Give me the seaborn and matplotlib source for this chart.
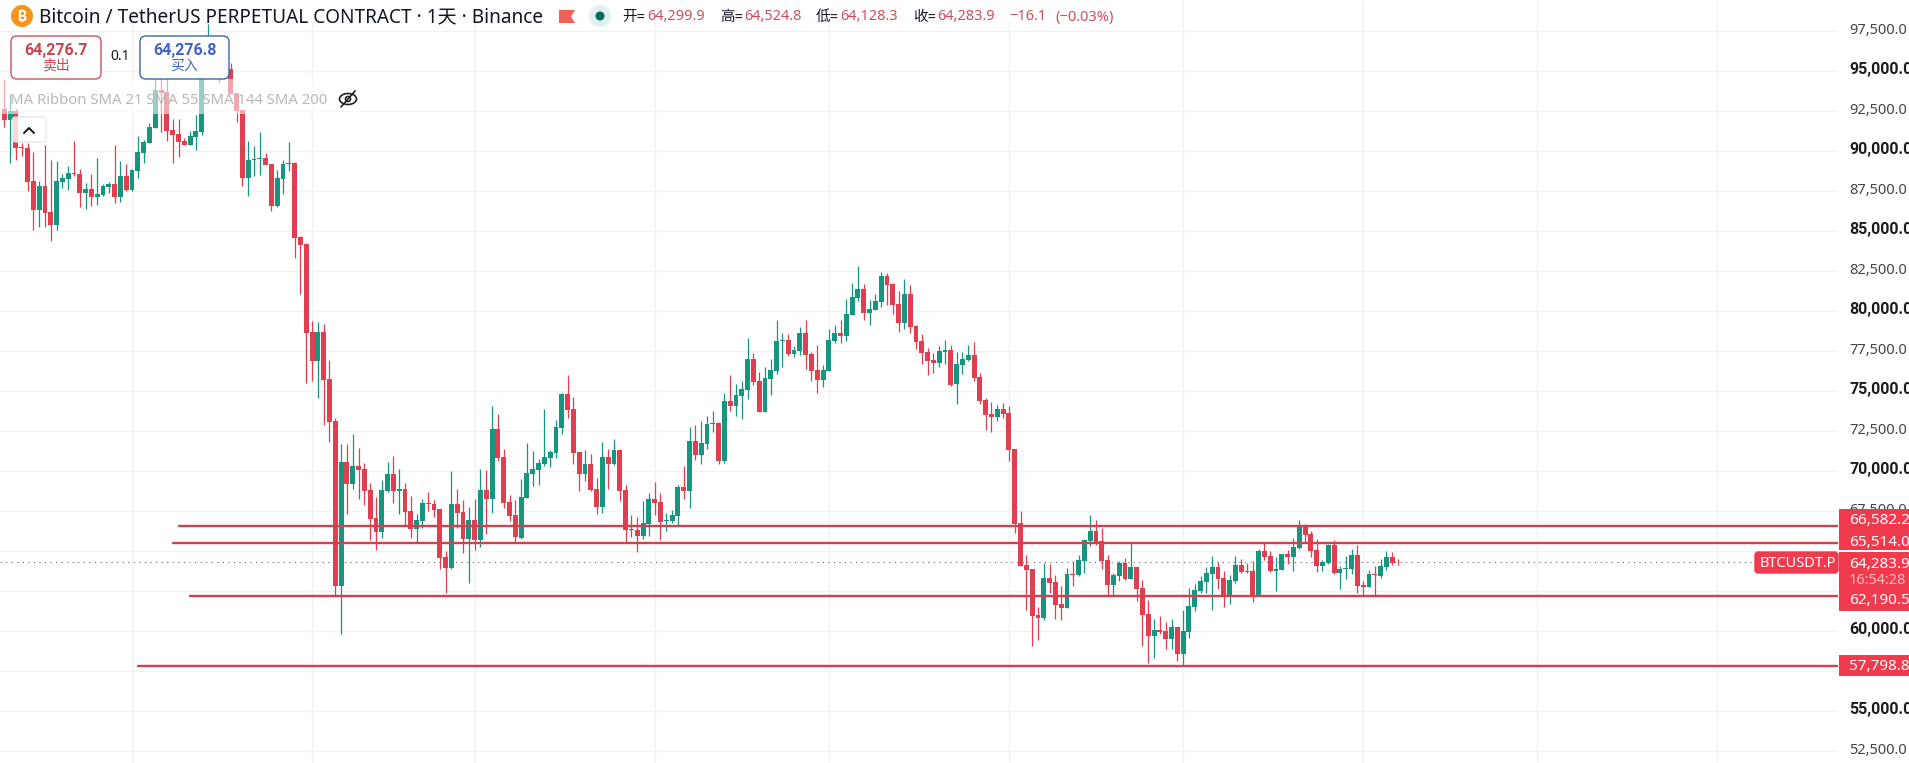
# BTC perpetual daily candles with hand drawn levels
import pandas as pd
import seaborn as sns
import matplotlib.pyplot as plt
from matplotlib.patches import Rectangle, FancyBboxPatch, Circle, Ellipse, Polygon
from matplotlib.transforms import ScaledTranslation

opens = [92625,91938,92500,90250,90188,88125,86312,87812,86188,85375,
88062,88250,88625,88562,87375,87625,87125,87250,87750,87938,
87125,88438,87562,88750,89875,90500,91438,93812,93688,91312,
91062,90625,90375,90875,91188,95417,96667,96042,95208,95125,
93625,92562,88312,89417,89500,89562,89188,86562,88250,89167,
89250,84625,84188,78688,76896,78688,75750,73125,62812,70562,
69208,70312,70125,68812,67062,66188,68750,69812,68771,68875,
67500,66375,66875,68000,67938,67625,64625,63938,67938,67438,
65750,66938,65688,68812,68250,72625,70875,68062,67250,65812,
68312,69812,70062,70438,70812,71125,72688,74812,73875,71188,
69812,70438,68875,67750,70875,70438,71312,68812,66375,66312,
65938,66688,68250,68062,66896,66875,67188,69000,68750,71875,
71000,71688,72917,73000,70625,74375,74062,74688,75062,77000,
75625,73688,75750,76250,78104,78188,77312,77500,78625,77312,
76312,75688,76250,78125,78625,78438,79750,80812,81375,79875,
80062,80562,82188,81688,80438,79250,81062,79062,78125,77438,
76938,76750,77458,77562,75438,76625,76938,77250,75875,74438,
73562,73375,73875,73625,71375,66750,64125,63875,61000,60812,
63312,63062,61688,61438,63562,63500,64375,65625,66250,65625,
64438,62875,63438,64250,63250,64000,62688,61062,59688,60062,
60000,59500,60250,58562,59938,61500,62500,63062,63562,64000,
63312,62188,63125,64125,63729,63750,62188,65000,64688,63771,
63812,64812,64625,65188,66562,66062,65062,64062,64250,65375,
63625,63875,63875,64750,62875,62750,63562,63438,64000,64625,
64299.9]
closes = [91938,92500,90208,90208,88083,86312,87812,86125,85375,88125,
88312,88625,88583,87375,87625,87125,87312,87812,87938,87125,
88438,87562,88812,89938,90562,91500,93812,93625,91250,91000,
90562,90375,90938,91250,95417,96667,96042,95208,95300,93562,
92500,88312,89438,89500,89562,89125,86562,88312,89188,89229,
84583,84146,78646,76896,78688,75708,73083,62812,70562,69208,
70312,70083,68750,67000,66188,68812,69812,68750,68854,67438,
66396,66938,68000,67958,67562,64562,63938,67938,67375,65750,
66938,65688,68812,68250,72625,70792,68000,67188,65875,68375,
69875,70125,70500,70875,71208,72750,74812,73812,71125,69812,
70438,68812,67750,70875,70438,71312,68750,66312,66312,65938,
66750,68250,68000,66812,66938,67250,69000,68750,71875,71000,
71750,72938,72979,70625,74375,74062,74750,75125,77000,75562,
73688,75812,76312,78125,78167,77312,77562,78625,77250,76250,
75688,76312,78188,78625,78438,79812,80875,81375,79875,80125,
80625,82188,81625,80375,79250,81062,79000,78062,77375,76875,
76750,77500,77542,75375,76688,77000,77250,75812,74375,73500,
73375,73875,73562,71312,66688,64062,63812,60938,60812,63312,
63000,61625,61438,63562,63521,64438,65688,66250,65500,64375,
62875,63500,64250,63250,64000,62625,61000,59688,60062,59938,
59500,60250,58562,60000,61562,62562,63125,63625,64000,63250,
62188,63188,64125,63688,63667,62188,65000,64625,63750,63854,
64812,64625,65250,66562,66000,65000,64062,64312,65375,63625,
63875,63938,64750,62812,62750,63562,63500,64062,64625,64250,
64283.9]
highs = [94438,93562,92604,90521,90521,89938,88125,90375,89438,89375,
88562,89062,90625,88875,88000,88562,89562,87938,88062,90375,
89375,89188,88854,90938,90688,91750,95000,95000,94792,91979,
91979,90812,91250,92250,95833,97938,96875,96250,95625,95500,
93625,92562,90625,90312,91188,89875,89188,88812,89438,90562,
89333,84688,84250,79375,79312,79188,76938,73333,71667,71667,
72312,71417,70479,69250,68375,69438,70562,70938,70104,69250,
68438,67312,68250,68688,68188,67625,65000,70000,68875,68188,
67750,68250,70125,70062,74062,73562,71375,68500,68188,69500,
71750,71250,70750,73875,71312,73188,74875,76000,74625,71188,
71312,71062,69562,71812,71375,72000,71375,69125,67250,67125,
68125,68625,69312,68625,67375,67562,69125,70312,72750,72875,
73125,73438,73750,73062,74875,76000,75438,75625,78312,77375,
76188,76500,77000,79438,78625,78562,77812,79000,79438,77438,
77875,76625,78875,79125,79438,80750,81750,82812,81688,80688,
81062,82438,82375,81750,81250,82000,81625,79125,78562,77688,
77375,77812,78188,77875,77438,77438,77875,78062,76125,74562,
74312,74125,74250,74062,71375,67500,64750,63875,61500,64229,
64188,63500,62812,63938,64375,64750,65750,67250,66938,66438,
64750,63625,64375,64562,65500,64000,63188,61938,60750,60938,
60562,60750,60250,61312,62688,62938,63438,64000,64688,64312,
63750,63500,64688,64500,64229,64375,65125,65500,65000,64625,
64812,65062,65812,66938,66688,66250,65750,64438,65438,65688,
64062,64688,65125,65375,63125,63812,64062,64500,65000,64938,
64524.8]
lows = [91500,89229,89438,89688,87500,85062,85250,85250,84375,85062,
87688,87562,88438,86500,86375,86562,86625,87188,87375,86750,
86812,87500,87500,88312,89250,90500,91438,91188,90625,89271,
89625,90375,90375,90062,91000,95208,95625,94271,95000,93562,
91812,87812,87188,88438,88500,89125,86250,86500,87292,88750,
83333,81042,75521,75625,74583,72896,71833,62250,59833,67292,
68854,68271,67875,65708,65083,65833,68688,68021,67292,66625,
65833,65583,66417,67500,67125,63875,62375,63875,66458,64875,
63000,65083,65271,66083,67375,70625,67708,66875,65521,65771,
68312,69062,69125,70312,70250,70812,72292,73333,70438,68750,
69375,68750,67312,67375,68875,70375,68125,65521,65875,64958,
65750,65938,67229,65688,66250,66750,66625,68250,67688,70688,
70438,71375,72438,70438,70500,73750,73438,73250,74500,75375,
73688,73688,74750,76062,76500,77188,77125,77250,76375,75625,
74875,75250,76250,78000,78000,78125,79750,80625,79438,79125,
80062,80250,80375,79812,78688,78875,78625,77625,76688,76000,
76125,76500,76688,75312,74188,76062,76875,75625,74188,72562,
72438,73125,73312,70625,66125,64062,61312,59062,59438,60688,
62375,60750,60688,61438,62812,63438,63625,65312,65375,63875,
62250,62250,63125,63188,63250,61875,59062,58000,58312,59812,
58875,58875,58125,57875,59562,61250,62375,62375,61312,62625,
61500,61688,63000,63625,63625,61812,62188,64438,63688,62500,
63812,64188,63750,65125,65500,64625,63688,63750,64188,63562,
62625,63250,63562,62375,62188,62750,62188,63312,63812,64125,
64128.3]

level_prices = [66582.2, 65514.0, 62190.5, 57798.8]
level_starts = [30, 29, 32, 23]
month_days = [22, 53, 81, 112, 142, 173, 203, 234, 264, 295]
price_ticks = list(range(52500, 100000, 2500))
hidden_ticks = [57500, 62500, 65000]  # sit under the red price tags
last_price = 64283.9

RED = '#e13f4f'
GREEN = '#16967f'
LINE_RED = '#d23f50'
W, H = 1909, 763

sns.set_style('white')
plt.rcParams['font.family'] = ['Noto Sans', 'Noto Sans CJK SC', 'DejaVu Sans']

fig = plt.figure(figsize=(W / 100, H / 100), dpi=100)
ax = fig.add_axes([0, 0, 1838 / W, 1])

df = pd.DataFrame({'day': range(len(opens)), 'open': opens, 'high': highs, 'low': lows, 'close': closes})
df['dir'] = ['up' if c >= o else 'down' for o, c in zip(df['open'], df['close'])]
palette = {'up': GREEN, 'down': RED}

# wicks
wicks = df.melt(id_vars=['day', 'dir'], value_vars=['high', 'low'], value_name='price')
sns.lineplot(data=wicks, x='day', y='price', units='day', hue='dir', palette=palette, estimator=None,
             linewidth=0.9, legend=False, ax=ax, zorder=2, solid_capstyle='butt')
# bodies
ax.bar(df['day'], (df['close'] - df['open']).abs(), bottom=df[['open', 'close']].min(axis=1), width=0.84,
       color=[palette[d] for d in df['dir']], linewidth=0, zorder=2.1)

# price levels
right_day = (1838 - 4.3) / 5.807
for price, start in zip(level_prices, level_starts):
    lv = pd.DataFrame({'day': [start, right_day], 'price': [price, price]})
    sns.lineplot(data=lv, x='day', y='price', color=LINE_RED, linewidth=1.7, ax=ax, zorder=3)
ax.axhline(last_price, color='#666666', linewidth=0.8, linestyle=(0, (1, 4)), zorder=1.5)

ax.set_xlim(-4.3 / 5.807, right_day)
ax.set_ylim(60000 - 132 * 62.5, 60000 + 631 * 62.5)
ax.set_xticks(month_days)
ax.set_xticklabels([])
ax.set_yticks(price_ticks)
ax.set_yticklabels(['' if p in hidden_ticks else f'{p:,.1f}' for p in price_ticks])
ax.yaxis.tick_right()
ax.tick_params(axis='y', length=0, pad=8, labelsize=10.5, labelcolor='#444444')
nudge = ScaledTranslation(0, 0.03, fig.dpi_scale_trans)
for p, lab in zip(price_ticks, ax.get_yticklabels()):
    lab.set_transform(lab.get_transform() + nudge)
    if p % 5000 == 0:
        lab.set_family(['Roboto', 'DejaVu Sans'])
        lab.set_fontweight('bold')
        lab.set_fontsize(11.5)
        lab.set_color('#1c1c1c')
ax.set_xlabel('')
ax.set_ylabel('')
ax.grid(True, color='#f1f2f5', linewidth=1.0)
ax.set_axisbelow(True)
sns.despine(ax=ax, left=True, bottom=True, right=True, top=True)

# overlay in pixel space for the trading ui parts
ui = fig.add_axes([0, 0, 1, 1], zorder=5)
ui.set_xlim(0, W)
ui.set_ylim(H, 0)
ui.axis('off')

ui.add_patch(Rectangle((0, 0), 1150, 22, color='white', lw=0))
ui.add_patch(Rectangle((0, 79), 360, 35, color='white', alpha=0.55, lw=0))


def box(x0, y0, x1, y1, edge, face='white', alpha=1.0, round_=6):
    ui.add_patch(FancyBboxPatch((x0, y0), x1 - x0, y1 - y0, boxstyle=f'round,pad=0,rounding_size={round_}',
                                facecolor=face, edgecolor=edge, linewidth=1.0, alpha=alpha))


def label(x, y, s, size=10, color='#131722', ha='left', **kw):
    ui.text(x, y, s, fontsize=size, color=color, ha=ha, va='center', **kw)


# header
ui.add_patch(Circle((22, 16), 11, color='#f7931a', lw=0))
label(22, 16, '₿', size=10, color='white', ha='center', fontweight='bold',
      family=['Inter', 'Roboto', 'Open Sans', 'Lato', 'Noto Sans', 'Liberation Sans', 'DejaVu Sans'])
label(39, 17, 'Bitcoin / TetherUS PERPETUAL CONTRACT · 1天 · Binance', size=13.7)
ui.add_patch(Polygon([(559, 10), (575, 10), (571, 16.5), (575, 23), (559, 23)], color='#f2605a', lw=0))
ui.add_patch(Circle((600, 16), 11, color='#e0f2ef', lw=0))
ui.add_patch(Circle((600, 16), 4.5, color='#0b6b5a', lw=0))

val = '#cf4f5f'
for x, s in [(622, '开='), (720, '高='), (815.5, '低='), (912.6, '收=')]:
    label(x, 17, s, size=10.5)
for x, s in [(647, '64,299.9'), (744, '64,524.8'), (840, '64,128.3'), (937, '64,283.9'),
             (1009, '−16.1'), (1055, '(−0.03%)')]:
    label(x, 17, s, size=10.5, color=val)

# order buttons
box(11, 36, 101, 79, '#c9505e')
label(56, 50, '64,276.7', size=11.5, color='#c9444f', ha='center', fontweight='bold', family=['Roboto', 'DejaVu Sans'])
label(56, 66, '卖出', size=10, color='#c9444f', ha='center')
label(120, 57, '0.1', size=10, ha='center')
box(140, 36, 229, 79, '#3b66a8')
label(184.5, 50, '64,276.8', size=11.5, color='#3f63c8', ha='center', fontweight='bold', family=['Roboto', 'DejaVu Sans'])
label(184.5, 66, '买入', size=10, color='#3f63c8', ha='center')

label(10, 100, 'MA Ribbon SMA 21 SMA 55 SMA 144 SMA 200', size=10.7, color='#b8b8b8')
ui.add_patch(Ellipse((348, 99), 17, 11, fill=False, edgecolor='#222222', lw=1.2))
ui.add_patch(Circle((348, 99), 2.5, fill=False, edgecolor='#222222', lw=1.2))
ui.plot([341, 355], [107, 91], color='#222222', lw=1.2)

box(12, 117, 46, 142, '#e4e4e4', face='white', alpha=0.8, round_=4)
ui.plot([24, 29, 34], [133, 128, 133], color='#111111', lw=1.4)

# right side price tags
ui.add_patch(Rectangle((1839, 509), 70, 41, color='#f03a4d', lw=0))
ui.add_patch(Rectangle((1839, 552), 70, 59, color='#f03a4d', lw=0))
ui.add_patch(Rectangle((1839, 655), 70, 21, color='#f03a4d', lw=0))
box(1755, 552, 1838, 573, '#f03a4d', face='#f03a4d', round_=3)
label(1760, 563.5, 'BTCUSDT.P', size=10.5, color='white')
for y, s in [(521, '66,582.2'), (542, '65,514.0'), (564, '64,283.9'), (601, '62,190.5'), (667, '57,798.8')]:
    label(1849, y, s, size=11, color='white', fontweight='medium')
label(1849, 581, '16:54:28', size=10.5, color='#f8bcc3')

fig.savefig('out.png', dpi=100)
